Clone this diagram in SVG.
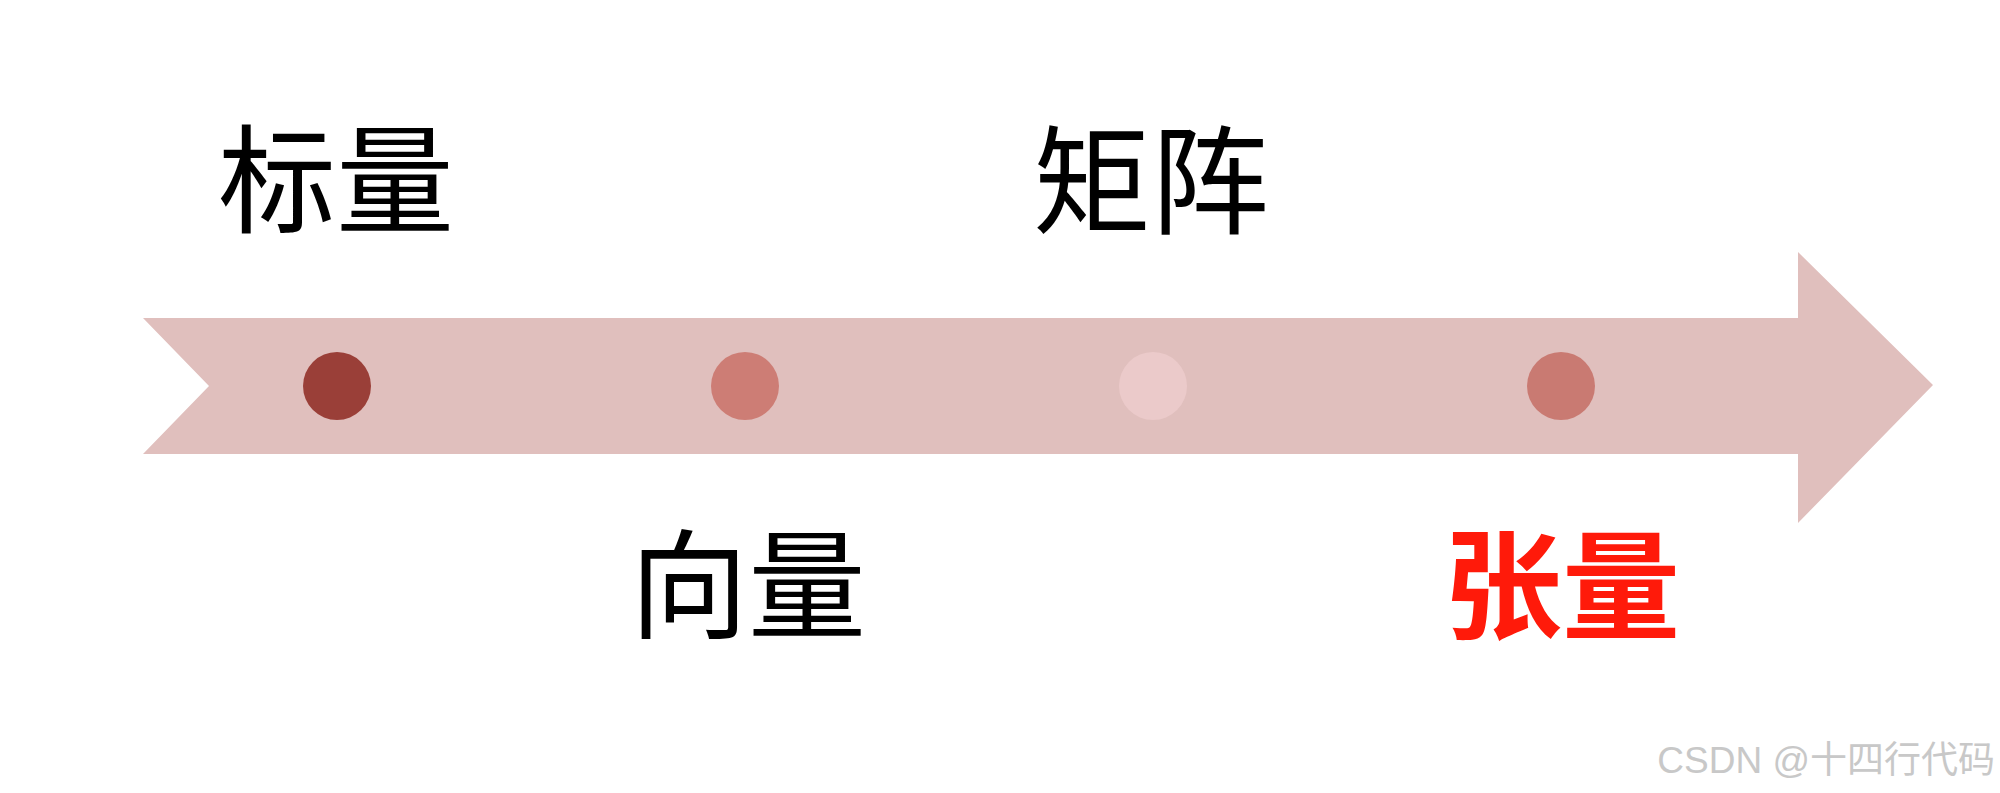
<svg xmlns="http://www.w3.org/2000/svg" width="2000" height="793" viewBox="0 0 2000 793">
<style>
.lbl{font-family:"Noto Sans CJK SC","Noto Sans",sans-serif;font-size:118px;text-anchor:middle;fill:#000}
.hot{fill:#ff1a0a;font-weight:bold}
.wm{font-family:"Liberation Sans","Noto Sans CJK SC",sans-serif;font-size:37px;fill:#c8c8c8;text-anchor:end}
</style>
<rect width="2000" height="793" fill="#ffffff"/>
<g id="connectors">
<polygon id="timeline-arrow" points="143,318 1798,318 1798,252 1933,385 1798,523 1798,454 143,454 209,386" fill="#e0bfbd"/>
</g>
<g id="node-scalar">
<circle cx="337" cy="386" r="34" fill="#9a3f38"/>
<text class="lbl" x="336" y="224">标量</text>
</g>
<g id="node-vector">
<circle cx="745" cy="386" r="34" fill="#cd7d75"/>
<text class="lbl" x="748" y="629">向量</text>
</g>
<g id="node-matrix">
<circle cx="1153" cy="386" r="34" fill="#ebcaca"/>
<text class="lbl" x="1151" y="225">矩阵</text>
</g>
<g id="node-tensor">
<circle cx="1561" cy="386" r="34" fill="#c97a72"/>
<text class="lbl hot" x="1562" y="630">张量</text>
</g>
<text class="wm" x="1995" y="773">CSDN @十四行代码</text>
</svg>
